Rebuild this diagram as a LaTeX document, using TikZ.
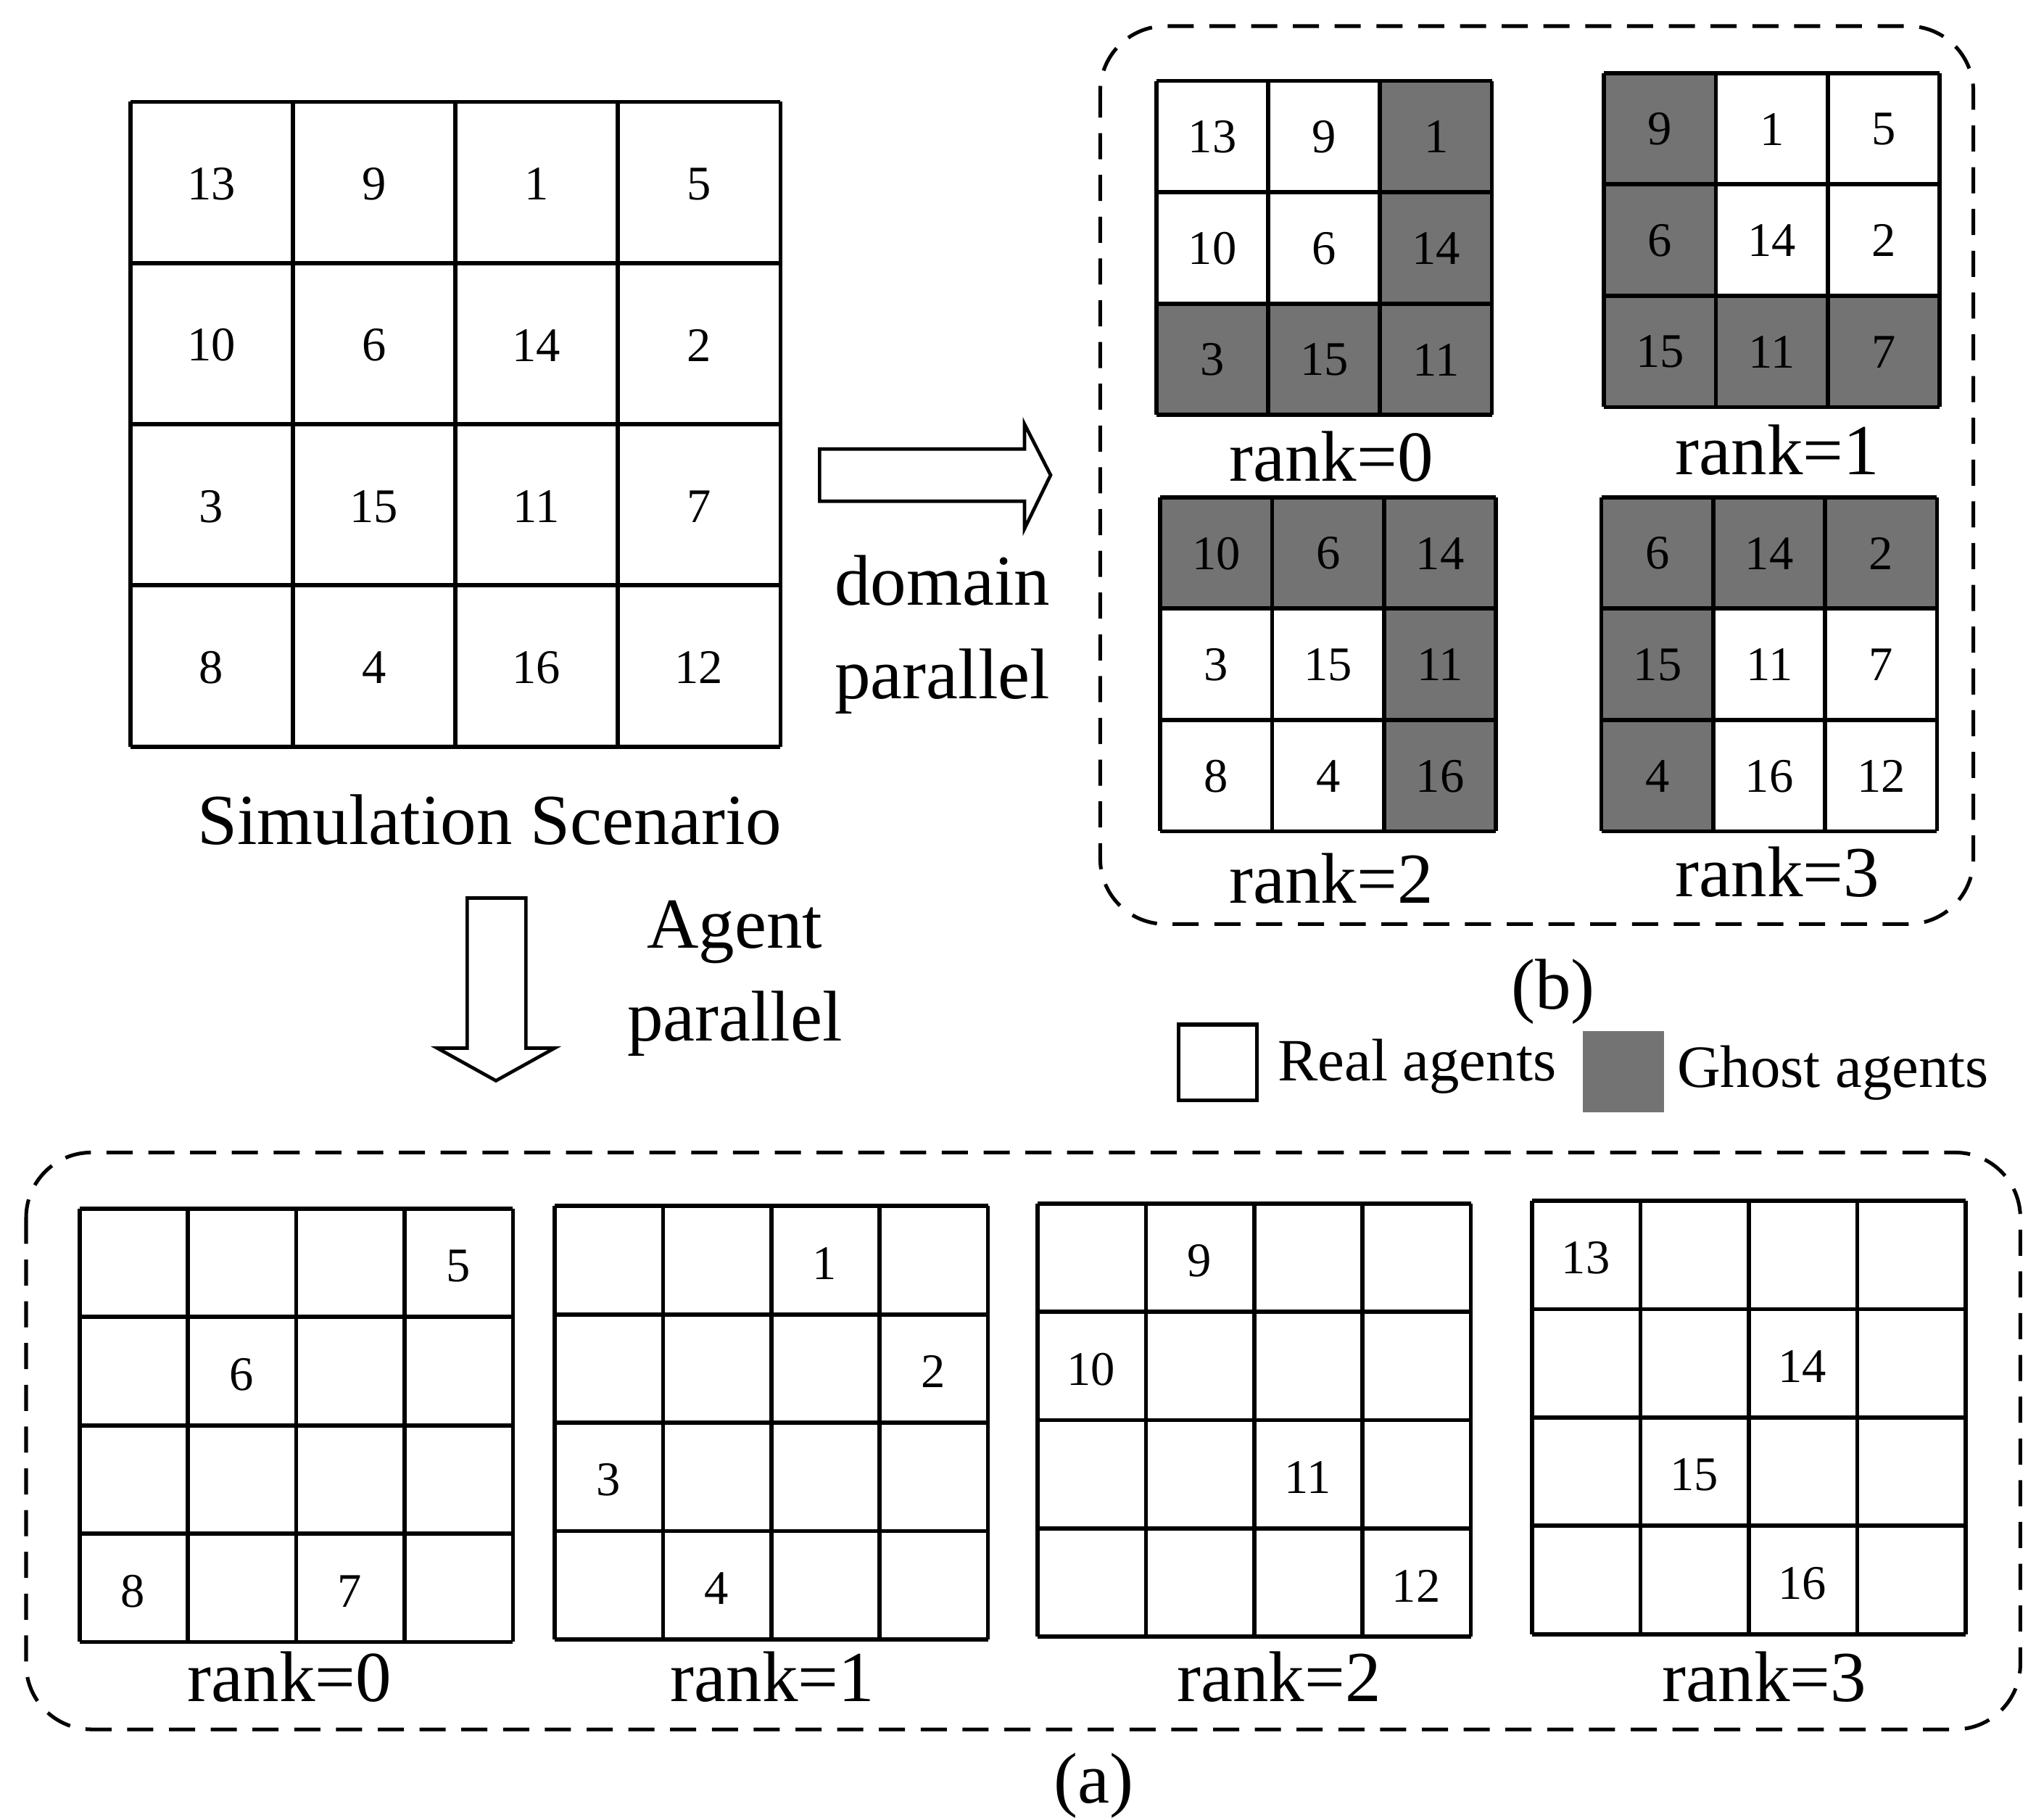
\documentclass[tikz,border=0pt]{standalone}
\usepackage{fontspec}
\setmainfont{Liberation Serif}
\begin{document}
\begin{tikzpicture}[x=0.5pt,y=-0.5pt,
  gl/.style={line width=1.6pt},
  num/.style={font=\fontsize{18.5}{20}\selectfont},
  lab/.style={font=\fontsize{27.5}{30}\selectfont},
  leg/.style={font=\fontsize{23}{26}\selectfont},
  dbox/.style={line width=1.4pt,dash pattern=on 10pt off 6pt,rounded corners=25pt},
  ghost/.style={fill=black!55}]
\useasboundingbox (0,0) rectangle (1560,1394);
\newcommand{\lgrid}[5]{%
  \foreach \k in {0,...,#5}{
    \draw[gl] (#1+#3*\k,#2) -- (#1+#3*\k,#2+#4*#5);
    \draw[gl] (#1,#2+#4*\k) -- (#1+#3*#5,#2+#4*\k);}}
% main grid
\lgrid{100}{78}{124.5}{123.5}{4}
\foreach \r/\row in {0/{13,9,1,5},1/{10,6,14,2},2/{3,15,11,7},3/{8,4,16,12}}{
  \foreach \v [count=\c from 0] in \row
    \node[num] (m\r\c) at (100+124.5*\c+62,78+123.5*\r+63) {\v};}
\node[lab] (sim) at (375,628) {Simulation Scenario};
% right arrow
\draw[line width=1.3pt,fill=white] (628,344)--(785,344)--(785,325)--(805,364)--(785,405)--(785,384)--(628,384)--cycle;
\node[lab] (dom) at (722,445) {domain};
\node[lab] (par1) at (722,522) {parallel};
% box b
\draw[dbox] (843,20) rectangle (1512,708);
\newcommand{\tgrid}[4]{%
  \foreach \r/\c in {#3} \fill[ghost] (#1+85.7*\c,#2+85.3*\r) rectangle ++(85.7,85.3);
  \lgrid{#1}{#2}{85.7}{85.3}{3}
  \foreach \row [count=\r from 0] in {#4}{
    \foreach \v [count=\c from 0] in \row
      \node[num] at (#1+85.7*\c+43,#2+85.3*\r+43) {\v};}}
\tgrid{886}{62}{0/2,1/2,2/0,2/1,2/2}{{13,9,1},{10,6,14},{3,15,11}}
\tgrid{1229}{56}{0/0,1/0,2/0,2/1,2/2}{{9,1,5},{6,14,2},{15,11,7}}
\tgrid{889}{381}{0/0,0/1,0/2,1/2,2/2}{{10,6,14},{3,15,11},{8,4,16}}
\tgrid{1227}{381}{0/0,0/1,0/2,1/0,2/0}{{6,14,2},{15,11,7},{4,16,12}}
\node[lab] (b0) at (1020,350) {rank=0};
\node[lab] (b1) at (1362,345) {rank=1};
\node[lab] (b2) at (1020,673) {rank=2};
\node[lab] (b3) at (1362,668) {rank=3};
\node[lab] (bl) at (1190,760) {(b)};
% legend
\draw[gl] (903,785) rectangle (963,843);
\node[leg,anchor=west] (real) at (972,817) {Real agents};
\fill[ghost] (1213,790) rectangle (1275,852);
\node[leg,anchor=west] (gh) at (1278,822) {Ghost agents};
% down arrow
\draw[line width=1.3pt,fill=white] (358,688)--(403,688)--(403,803)--(425,803)--(380,828)--(335,803)--(358,803)--cycle;
\node[lab] (ag) at (563,714) {Agent};
\node[lab] (par2) at (563,784) {parallel};
% box a
\draw[dbox] (20,883) rectangle (1548,1325);
\newcommand{\qgrid}[3]{%
  \lgrid{#1}{#2}{83}{83}{4}
  \foreach \r/\c/\v in {#3} \node[num] at (#1+83*\c+41,#2+83*\r+44) {\v};}
\qgrid{61}{926}{0/3/5,1/1/6,3/0/8,3/2/7}
\qgrid{425}{924}{0/2/1,1/3/2,2/0/3,3/1/4}
\qgrid{795}{922}{0/1/9,1/0/10,2/2/11,3/3/12}
\qgrid{1174}{920}{0/0/13,1/2/14,2/1/15,3/2/16}
\node[lab] (a0) at (222,1285) {rank=0};
\node[lab] (a1) at (592,1285) {rank=1};
\node[lab] (a2) at (980,1285) {rank=2};
\node[lab] (a3) at (1352,1285) {rank=3};
\node[lab] (al) at (838,1368) {(a)};
\end{tikzpicture}
\end{document}
